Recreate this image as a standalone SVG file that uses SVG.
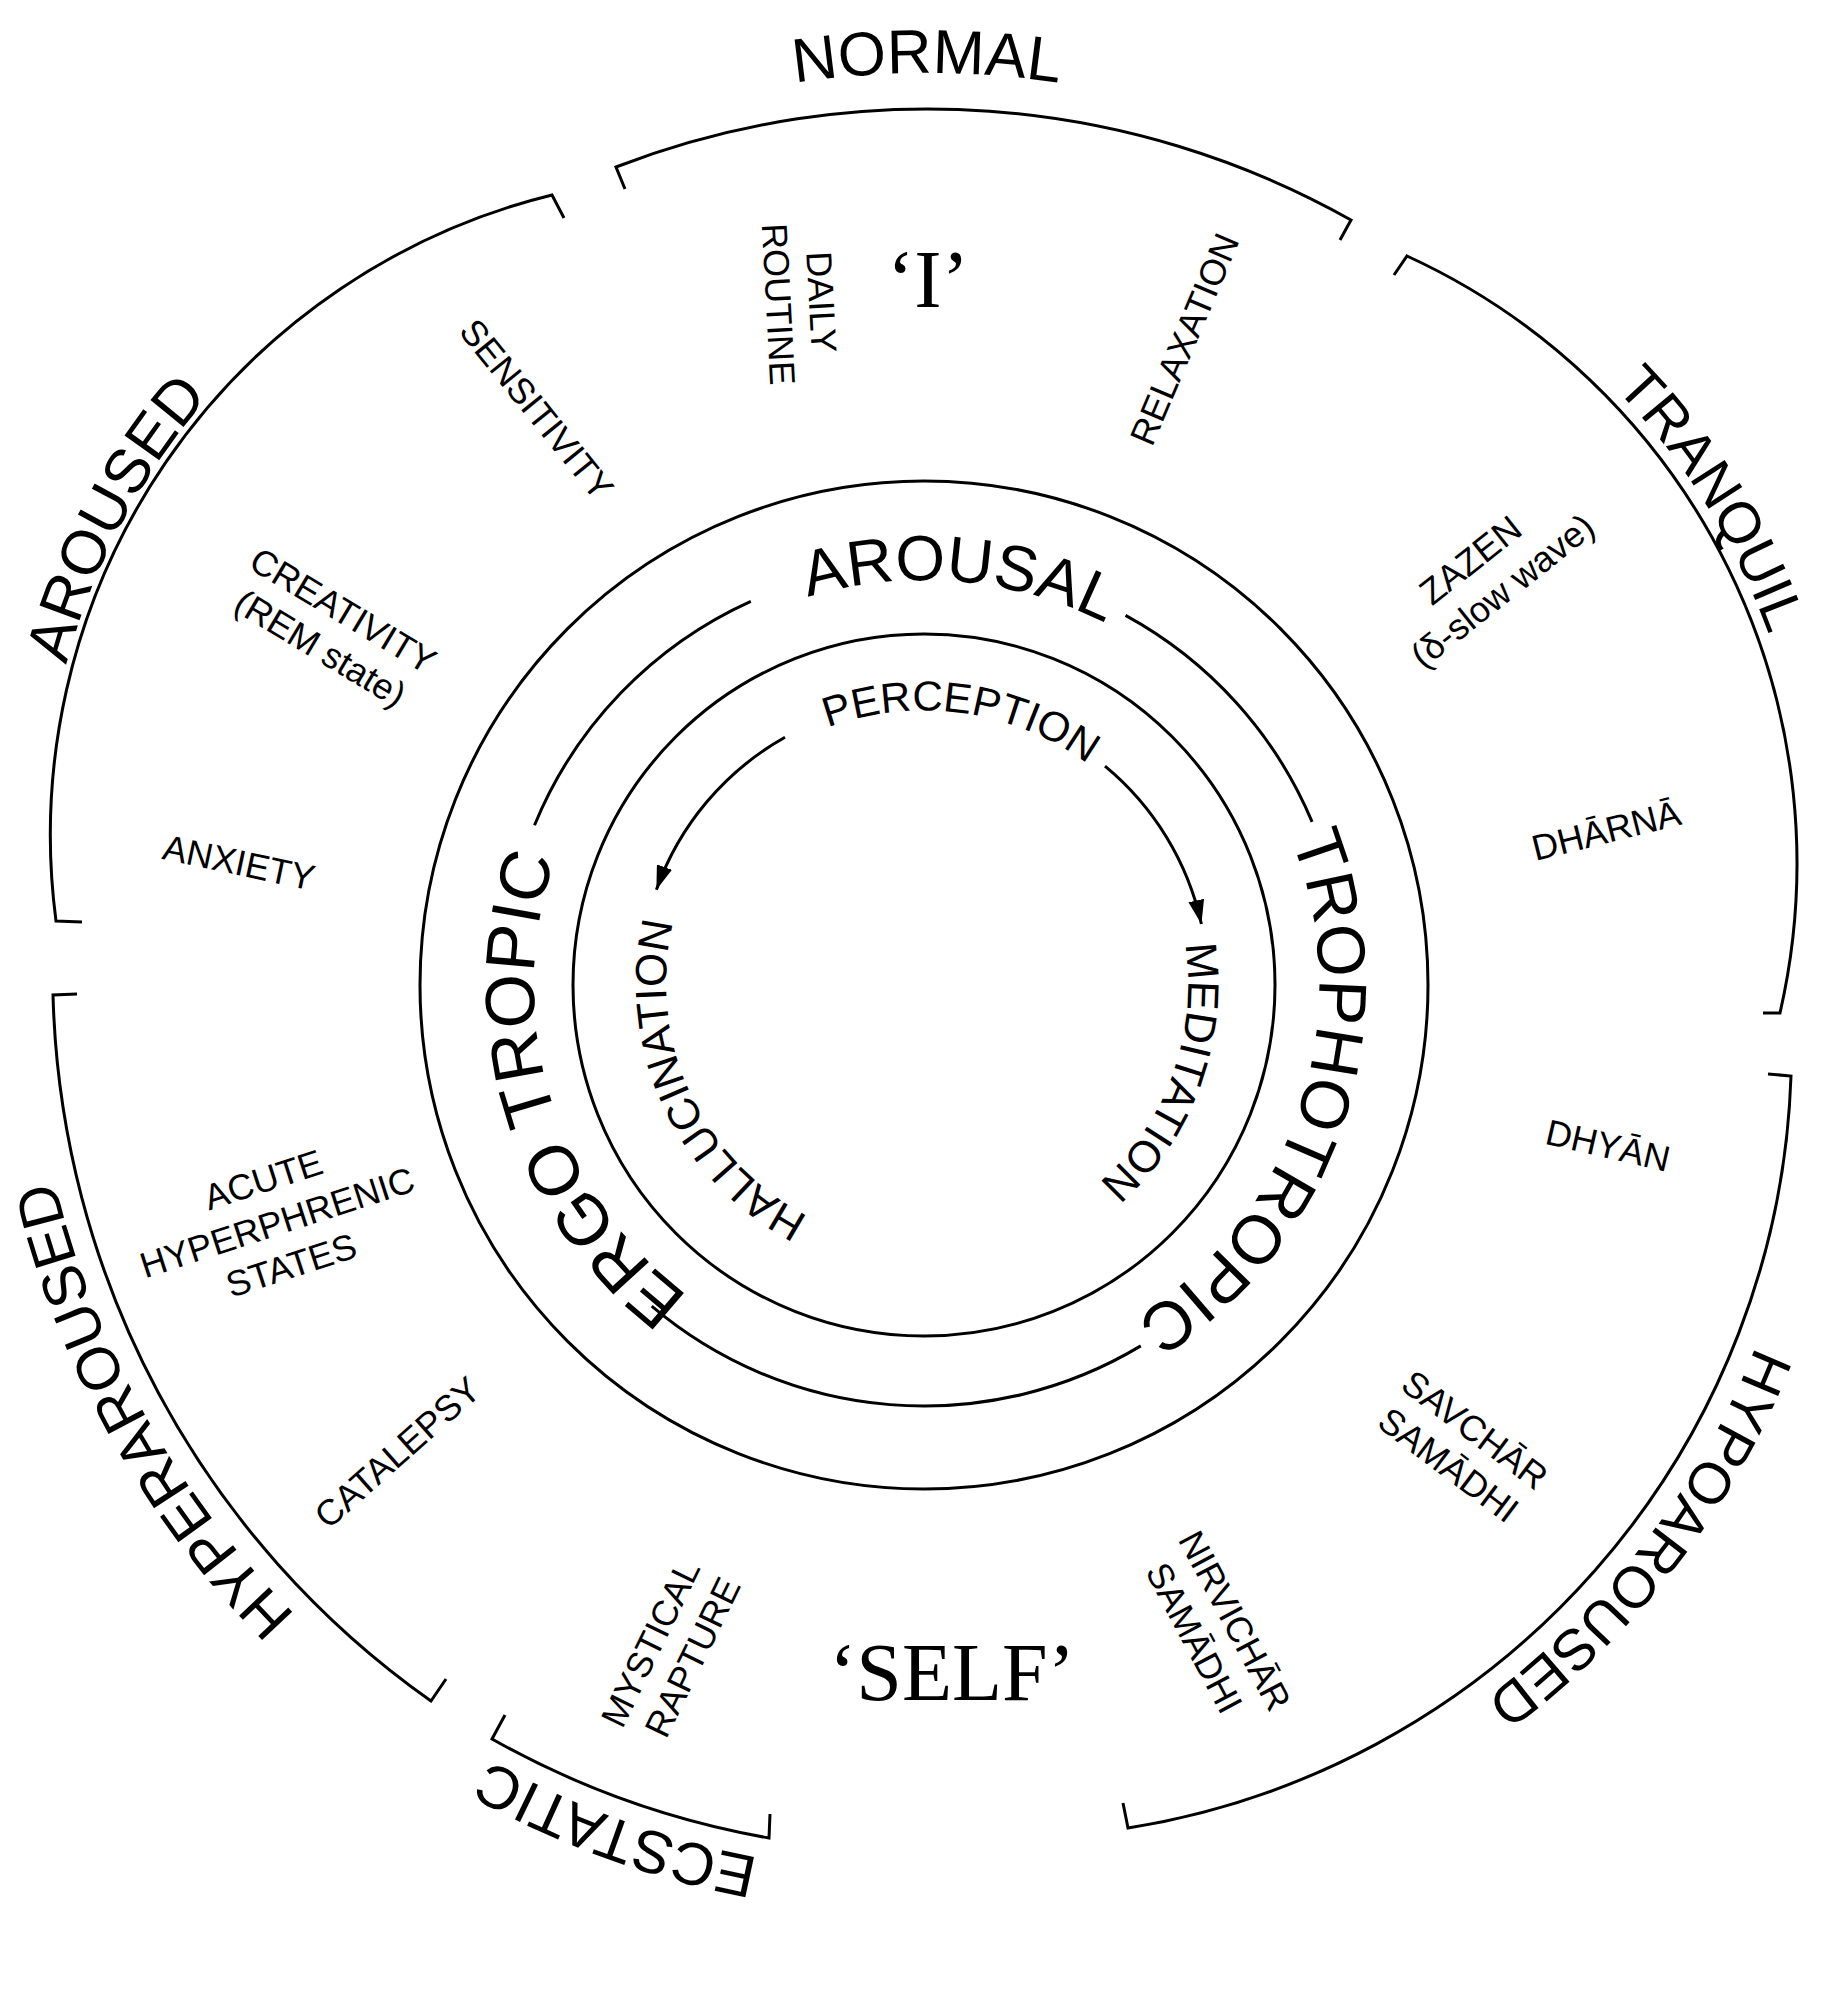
<svg xmlns="http://www.w3.org/2000/svg" width="1840" height="2006" viewBox="0 0 1840 2006">
<style>
.ln{fill:none;stroke:#000;stroke-width:3}
text{font-family:"Liberation Sans",Arial,sans-serif;fill:#000}
.s{font-size:36px;text-anchor:middle}
.serif{font-family:"Liberation Serif","Times New Roman",serif;font-size:82px;text-anchor:middle}
</style>
<defs>
<marker id="ah" markerUnits="userSpaceOnUse" markerWidth="24" markerHeight="16" viewBox="0 0 24 16" refX="24" refY="8" orient="auto"><path d="M0,0 L24,8 L0,16 z" fill="#000"/></marker>
<path id="pArousal" d="M519.8,960.3 A405,405 0 0 1 1328.9,995.6"/>
<path id="pPerc" d="M646.7,965.6 A278,278 0 0 1 1201.3,1004.4"/>
<path id="pErgo" d="M1038,1358 A390,390 0 0 1 810,612"/>
<path id="pTroph" d="M1046.1,609.3 A395,395 0 0 1 801.9,1360.7"/>
<path id="pHall" d="M1022.1,1227.9 A262,262 0 0 1 825.9,742.1"/>
<path id="pMed" d="M1005.6,733.9 A264,264 0 0 1 842.4,1236.1"/>
<path id="pNormal" d="M477,193.6 A900,900 0 0 1 1377,193.6"/>
<path id="pAroused" d="M394.5,1428.3 A672,672 0 0 1 1025.5,241.7"/>
<path id="pHyper" d="M1388.6,1771.3 A915,915 0 0 1 501.4,170.7"/>
<path id="pEcst" d="M1765,1291.1 A895,895 0 0 1 83,678.9"/>
<path id="pTranq" d="M763.4,280.6 A688,688 0 0 1 1492.6,1447.4"/>
<path id="pHypo" d="M1498.3,405.8 A812,812 0 0 1 509.7,1694.2"/>
</defs>
<rect width="1840" height="2006" fill="#fff"/>
<g id="connectors">
<path class="ln" d="M625,189 L616,167 A864,864 0 0 1 1351,220 L1340,240"/>
<path class="ln" d="M1394,275 L1407,256 A668,668 0 0 1 1780,1013 L1763,1013"/>
<path class="ln" d="M1768,1074 L1791,1076 A788,788 0 0 1 1128,1828 L1123,1803"/>
<path class="ln" d="M770,1814 L769,1838 A870,870 0 0 1 492,1739 L505,1715"/>
<path class="ln" d="M446,1679 L431,1701 A892,892 0 0 1 53,995 L77,994"/>
<path class="ln" d="M82,922 L56,921 A659,659 0 0 1 552,195 L564,218"/>
<circle class="ln" cx="924" cy="985" r="504"/>
<circle class="ln" cx="924" cy="985" r="351"/>
<path class="ln" d="M534.5,825.2 A421,421 0 0 1 750.8,601.3"/>
<path class="ln" d="M1125.5,615.4 A421,421 0 0 1 1312.1,821.9"/>
<path class="ln" d="M1140.8,1345.9 A421,421 0 0 1 651.7,1306.1"/>
<path class="ln" d="M785,737.3 A284,284 0 0 0 656.4,889.7" marker-end="url(#ah)"/>
<path class="ln" d="M1105,766.2 A284,284 0 0 1 1201.4,924" marker-end="url(#ah)"/>
</g>
<g id="ring-labels">
<text font-size="64"><textPath href="#pArousal" startOffset="51.4%" text-anchor="middle">AROUSAL</textPath></text>
<text font-size="42"><textPath href="#pPerc" startOffset="52.2%" text-anchor="middle">PERCEPTION</textPath></text>
<text font-size="70"><textPath href="#pErgo" startOffset="50%" text-anchor="middle">ERGO TROPIC</textPath></text>
<text font-size="68"><textPath href="#pTroph" startOffset="50%" text-anchor="middle">TROPHOTROPIC</textPath></text>
<text font-size="44"><textPath href="#pHall" startOffset="48.5%" text-anchor="middle">HALLUCINATION</textPath></text>
<text font-size="44"><textPath href="#pMed" startOffset="51%" text-anchor="middle">MEDITATION</textPath></text>
</g>
<g id="state-labels">
<text font-size="62"><textPath href="#pNormal" startOffset="50%" text-anchor="middle">NORMAL</textPath></text>
<text font-size="62"><textPath href="#pAroused" startOffset="50%" text-anchor="middle">AROUSED</textPath></text>
<text font-size="60"><textPath href="#pHyper" startOffset="50%" text-anchor="middle">HYPERAROUSED</textPath></text>
<text font-size="60"><textPath href="#pEcst" startOffset="50%" text-anchor="middle">ECSTATIC</textPath></text>
<text font-size="58"><textPath href="#pTranq" startOffset="50%" text-anchor="middle">TRANQUIL</textPath></text>
<text font-size="58"><textPath href="#pHypo" startOffset="50%" text-anchor="middle">HYPOAROUSED</textPath></text>
</g>
<g id="i"><text class="serif" x="928" y="307">‘I’</text></g>
<g id="self"><text class="serif" x="952" y="1700">‘SELF’</text></g>
<g id="daily" transform="translate(800,303) rotate(87)"><text class="s" y="-9">DAILY</text><text class="s" y="34">ROUTINE</text></g>
<g id="sensitivity" transform="translate(537,409) rotate(51)"><text class="s" y="13">SENSITIVITY</text></g>
<g id="relaxation" transform="translate(1184,339) rotate(-67)"><text class="s" y="13">RELAXATION</text></g>
<g id="creativity" transform="translate(332,629) rotate(31)"><text class="s" y="-9">CREATIVITY</text><text class="s" y="35">(REM state)</text></g>
<g id="anxiety" transform="translate(239,862) rotate(12)"><text class="s" y="13">ANXIETY</text></g>
<g id="zazen" transform="translate(1486,575) rotate(-38.5)"><text class="s" x="-3" y="-9">ZAZEN</text><text class="s" x="3" y="35">(δ-slow wave)</text></g>
<g id="dharna" transform="translate(1606,830) rotate(-14)"><text class="s" y="13">DHĀRNĀ</text></g>
<g id="dhyan" transform="translate(1608,1145) rotate(13)"><text class="s" y="13">DHYĀN</text></g>
<g id="savchar" transform="translate(1462,1447) rotate(37)"><text class="s" y="-9">SAVCHĀR</text><text class="s" y="35">SAMĀDHI</text></g>
<g id="nirvichar" transform="translate(1215,1629) rotate(62)"><text class="s" x="2" y="-9">NIRVICHĀR</text><text class="s" x="-2" y="35">SAMĀDHI</text></g>
<g id="mystical" transform="translate(671,1650) rotate(-64)"><text class="s" x="-3" y="-9">MYSTICAL</text><text class="s" x="3" y="35">RAPTURE</text></g>
<g id="catalepsy" transform="translate(397,1452) rotate(-41.5)"><text class="s" y="13">CATALEPSY</text></g>
<g id="acute" transform="translate(277,1222) rotate(-18)"><text class="s" y="-32">ACUTE</text><text class="s" y="13">HYPERPHRENIC</text><text class="s" y="58">STATES</text></g>
</svg>
